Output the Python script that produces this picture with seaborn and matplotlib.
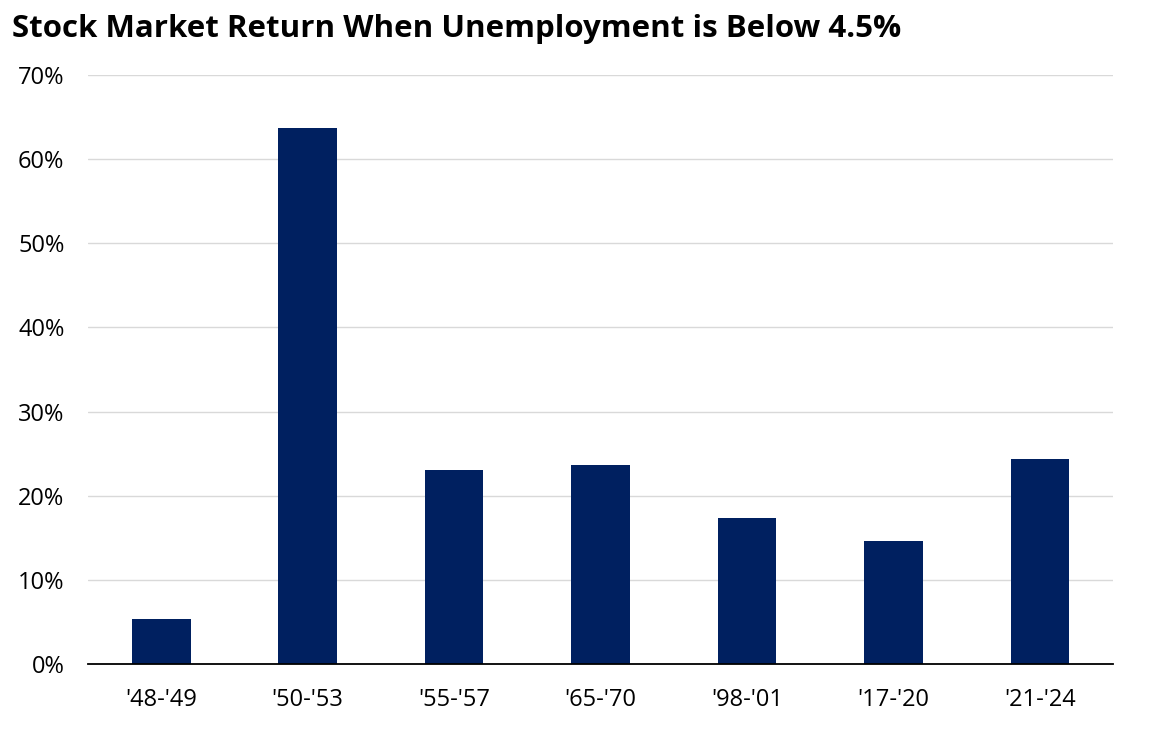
import matplotlib
matplotlib.use("Agg")
import matplotlib.pyplot as plt
import seaborn as sns
import pandas as pd
from matplotlib.ticker import PercentFormatter

periods = ["'48-'49", "'50-'53", "'55-'57", "'65-'70", "'98-'01", "'17-'20", "'21-'24"]
returns = [5.4, 63.7, 23.1, 23.7, 17.3, 14.6, 24.4]
yticks = [0, 10, 20, 30, 40, 50, 60, 70]

df = pd.DataFrame({"period": periods, "ret": returns})

sns.set_theme(style="white")
plt.rcParams['font.family'] = ['Open Sans', 'DejaVu Sans']

fig = plt.figure(figsize=(11.56, 7.36), dpi=100)
ax = fig.add_axes([88/1156, 1 - 664/736, (1113-88)/1156, (664-75)/736])

sns.barplot(data=df, x="period", y="ret", color="#002060", width=0.40,
            saturation=1, linewidth=0, ax=ax, zorder=3)

ax.set_ylim(0, 70)
ax.set_yticks(yticks)
ax.yaxis.set_major_formatter(PercentFormatter(decimals=0))
ax.set_xlim(-0.5, len(periods) - 0.5)
ax.grid(axis="y", color="#d9d9d9", linewidth=1, zorder=0)
ax.set_axisbelow(True)
for s in ["left", "right", "top"]:
    ax.spines[s].set_visible(False)
ax.spines["bottom"].set_color("black")
ax.spines["bottom"].set_linewidth(1.3)
ax.spines["bottom"].set_zorder(4)
ax.tick_params(axis="both", length=0, labelsize=17, colors="black")
ax.tick_params(axis="x", pad=17)
ax.tick_params(axis="y", pad=17)
ax.set_xlabel("")
ax.set_ylabel("")

fig.text(12/1156, 1 - 29/736, "Stock Market Return When Unemployment is Below 4.5%",
         fontsize=22.5, fontweight="bold", ha="left", va="center", color="black")

fig.savefig("out.png", dpi=100, facecolor="white")
